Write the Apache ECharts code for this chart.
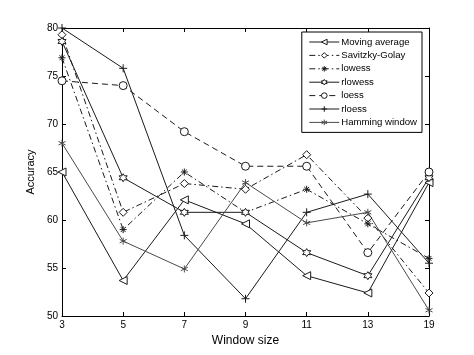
<!DOCTYPE html>
<html><head><meta charset="utf-8">
<script src="https://cdn.jsdelivr.net/npm/echarts@6/dist/echarts.min.js"></script>
<style>html,body{margin:0;padding:0;background:#fff}#c{width:474px;height:355px}</style>
</head><body><div id="c"></div>
<script>
var categories = ['3','5','7','9','11','13','19'];
var movingAverage = [65.0, 53.7, 62.1, 59.6, 54.2, 52.4, 63.9];
var savitzkyGolay = [79.3, 60.8, 63.8, 63.2, 66.8, 60.2, 52.4];
var lowess = [76.9, 59.0, 65.0, 60.8, 63.2, 59.6, 56.0];
var rlowess = [78.6, 64.4, 60.8, 60.8, 56.6, 54.2, 64.4];
var loess = [74.5, 74.0, 69.2, 65.6, 65.6, 56.6, 65.0];
var rloess = [80.0, 75.8, 58.4, 51.8, 60.8, 62.7, 55.5];
var hamming = [68.0, 57.8, 54.9, 63.9, 59.7, 60.8, 50.6];
var yTicks = [50, 55, 60, 65, 70, 75, 80];

var FONT = 'Liberation Sans, Arial, sans-serif';
var DARK = '#1a1a1a';
var GREY = '#4a4a4a';
var SYM = {
  triLeft: 'path://M10,0L0,5L10,10Z',
  diamond: 'path://M5,0L10,5L5,10L0,5Z',
  asterisk: 'path://M5,0L5,10M0,5L10,5M1.5,1.5L8.5,8.5M8.5,1.5L1.5,8.5',
  hexagram: 'path://M5,0L6.4,2.6L9.3,2.5L7.9,5L9.3,7.5L6.4,7.4L5,10L3.6,7.4L0.7,7.5L2.1,5L0.7,2.5L3.6,2.6Z',
  circle: 'circle',
  plus: 'path://M5,0L5,10M0,5L10,5',
  star6: 'path://M5,0L5,10M0.7,2.5L9.3,7.5M9.3,2.5L0.7,7.5'
};
function mk(name, data, symbol, size, dash, color) {
  return {
    name: name, type: 'line', data: data, symbol: symbol, symbolSize: size,
    showSymbol: true,
    lineStyle: {color: color, width: 1, type: dash},
    itemStyle: {color: '#fff', borderColor: color, borderWidth: 1},
    emphasis: {disabled: true},
    animation: false
  };
}
var series = [
  mk('Moving average', movingAverage, SYM.triLeft, 8, 'solid', DARK),
  mk('Savitzky-Golay', savitzkyGolay, SYM.diamond, 8, [6, 3, 1.5, 3], DARK),
  mk('lowess', lowess, SYM.asterisk, 7, [6, 3, 1.5, 3], DARK),
  mk('rlowess', rlowess, SYM.hexagram, 8, 'solid', DARK),
  mk('loess', loess, SYM.circle, 8, [6, 4], DARK),
  mk('rloess', rloess, SYM.plus, 8, 'solid', DARK),
  mk('Hamming window', hamming, SYM.star6, 7, 'solid', GREY)
];
var axisLine = {show: true, lineStyle: {color: '#000', width: 1}};
var chart = echarts.init(document.getElementById('c'), null, {renderer: 'canvas'});
chart.setOption({
  backgroundColor: '#fff',
  animation: false,
  textStyle: {fontFamily: FONT},
  grid: {left: 62, right: 45, top: 28, bottom: 39, containLabel: false},
  legend: {
    orient: 'vertical', right: 52, top: 32,
    backgroundColor: '#fff', borderColor: '#000', borderWidth: 1,
    padding: [5, 5, 5, 7], itemGap: 3.4, itemWidth: 30, itemHeight: 7,
    lineStyle: {width: 1},
    itemStyle: {borderWidth: 1},
    textStyle: {fontFamily: FONT, fontSize: 9.6, color: '#000', padding: [0, 0, 0, -3]},
    data: series.map(function (s) { return s.name; })
  },
  xAxis: [{
    type: 'category', data: categories, boundaryGap: false,
    axisLine: axisLine,
    axisTick: {show: true, inside: true, length: 4, lineStyle: {color: '#000'}},
    axisLabel: {color: '#000', fontSize: 10, fontFamily: FONT, margin: 4},
    splitLine: {show: false},
    name: 'Window size', nameLocation: 'middle', nameGap: 19,
    nameTextStyle: {color: '#000', fontSize: 12, fontFamily: FONT}
  }, {
    type: 'category', data: categories, boundaryGap: false, position: 'top',
    axisLine: axisLine,
    axisTick: {show: true, inside: true, length: 4, lineStyle: {color: '#000'}},
    axisLabel: {show: false}, splitLine: {show: false}
  }],
  yAxis: [{
    type: 'value', min: 50, max: 80, interval: 5,
    axisLine: axisLine,
    axisTick: {show: true, inside: true, length: 4, lineStyle: {color: '#000'}},
    axisLabel: {color: '#000', fontSize: 10, fontFamily: FONT, margin: 4,
      formatter: function (v) { return yTicks.indexOf(v) >= 0 ? String(v) : ''; }},
    splitLine: {show: false},
    name: 'Accuracy', nameLocation: 'middle', nameGap: 22,
    nameTextStyle: {color: '#000', fontSize: 11, fontFamily: FONT}
  }, {
    type: 'value', min: 50, max: 80, interval: 5, position: 'right',
    axisLine: axisLine,
    axisTick: {show: true, inside: true, length: 4, lineStyle: {color: '#000'}},
    axisLabel: {show: false}, splitLine: {show: false}
  }],
  series: series
});
</script></body></html>
